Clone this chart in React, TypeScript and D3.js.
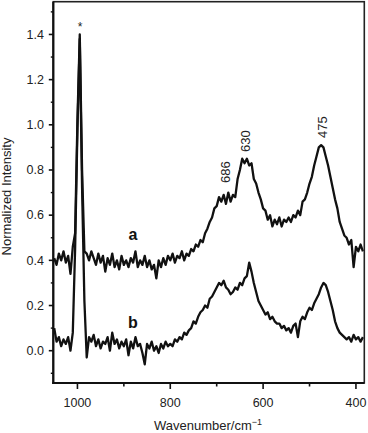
import React from 'react';
import * as d3 from 'd3';

// Raman spectra, sampled every 5 cm-1 from 1050 down to 385
const WN_START = 1050;
const WN_STEP = 5;

const traceA = [
  0.41, 0.38, 0.43, 0.40, 0.44, 0.39, 0.42, 0.34, 0.46, 0.52,
  1.02, 1.40, 0.80, 0.44, 0.43, 0.40, 0.44, 0.41, 0.38, 0.43,
  0.39, 0.42, 0.35, 0.41, 0.38, 0.43, 0.37, 0.40, 0.36, 0.42,
  0.38, 0.40, 0.37, 0.41, 0.39, 0.44, 0.37, 0.40, 0.38, 0.42,
  0.37, 0.40, 0.36, 0.38, 0.32, 0.40, 0.37, 0.41, 0.38, 0.42,
  0.40, 0.43, 0.39, 0.42, 0.41, 0.44, 0.40, 0.43, 0.42, 0.45,
  0.44, 0.47, 0.46, 0.49, 0.48, 0.52, 0.54, 0.57, 0.59, 0.63,
  0.64, 0.68, 0.66, 0.69, 0.65, 0.70, 0.66, 0.69, 0.68, 0.76,
  0.80, 0.85, 0.83, 0.85, 0.82, 0.83, 0.76, 0.74, 0.70, 0.67,
  0.63, 0.62, 0.58, 0.60, 0.55, 0.58, 0.56, 0.59, 0.55, 0.58,
  0.57, 0.59, 0.57, 0.60, 0.59, 0.62, 0.60, 0.66, 0.67, 0.70,
  0.74, 0.77, 0.82, 0.86, 0.90, 0.91, 0.90, 0.86, 0.82, 0.77,
  0.72, 0.67, 0.63, 0.57, 0.54, 0.51, 0.50, 0.47, 0.49, 0.37,
  0.46, 0.44, 0.47, 0.44,
];

const traceB = [
  0.10, 0.04, 0.06, 0.02, 0.05, 0.03, 0.06, 0.00, 0.08, 0.45,
  0.98, 1.38, 0.72, 0.22, -0.03, 0.06, 0.04, 0.07, 0.02, 0.05,
  0.01, 0.04, 0.03, 0.06, 0.00, 0.08, 0.03, 0.05, 0.01, 0.04,
  0.02, 0.05, -0.02, 0.04, 0.01, 0.06, 0.02, 0.03, -0.01, -0.06,
  0.03, 0.01, 0.04, 0.00, 0.02, -0.01, 0.03, 0.01, 0.04, 0.02,
  0.03, 0.02, 0.05, 0.04, 0.06, 0.05, 0.08, 0.07, 0.09, 0.10,
  0.13, 0.12, 0.15, 0.17, 0.18, 0.20, 0.19, 0.23, 0.24, 0.26,
  0.28, 0.30, 0.29, 0.31, 0.28, 0.27, 0.25, 0.26, 0.28, 0.27,
  0.30, 0.29, 0.32, 0.33, 0.39, 0.35, 0.30, 0.26, 0.22, 0.20,
  0.18, 0.16, 0.17, 0.14, 0.15, 0.13, 0.12, 0.12, 0.10, 0.11,
  0.09, 0.10, 0.08, 0.11, 0.12, 0.06, 0.13, 0.15, 0.14, 0.17,
  0.19, 0.18, 0.21, 0.23, 0.25, 0.28, 0.30, 0.29, 0.26, 0.22,
  0.18, 0.13, 0.10, 0.08, 0.07, 0.06, 0.05, 0.06, 0.04, 0.07,
  0.05, 0.06, 0.04, 0.06,
];

const xTicks = [1000, 800, 600, 400];
const xMinorTicks = [900, 700, 500];
const yTicks = [0, 0.2, 0.4, 0.6, 0.8, 1.0, 1.2, 1.4];
const yMinorTicks = [-0.1, 0.1, 0.3, 0.5, 0.7, 0.9, 1.1, 1.3, 1.5];
const peakLabels = ['686', '630', '475'];

const W = 368;
const H = 433;
const margin = { top: 1.7, right: 3.7, bottom: 50, left: 53.3 };
const FONT = '"Liberation Sans", Arial, Helvetica, sans-serif';

const App = () => {
  const x = d3.scaleLinear().domain([1052, 382]).range([margin.left, W - margin.right]);
  const y = d3.scaleLinear().domain([-0.143, 1.545]).range([H - margin.bottom, margin.top]);

  const wn = traceA.map((_, i) => WN_START - i * WN_STEP);
  const line = d3.line<number>()
    .x((_, i) => x(wn[i]))
    .y(d => y(d));

  const left = margin.left;
  const right = W - margin.right;
  const top = margin.top;
  const bottom = H - margin.bottom;

  // rotated peak labels: baseline x, bottom y
  const peakPos = [
    { bx: 230, by: 183 },
    { bx: 249.5, by: 152 },
    { bx: 327, by: 138 },
  ];

  return (
    <div style={{ position: 'fixed', left: 0, top: 0 }}>
      <svg width={W} height={H} style={{ display: 'block', background: '#fff' }} fontFamily={FONT}>
        <defs>
          <clipPath id="plot">
            <rect x={left} y={top} width={right - left} height={bottom - top} />
          </clipPath>
        </defs>

        <g clipPath="url(#plot)" fill="none" stroke="#111" strokeWidth={2.3} strokeLinejoin="round">
          <path d={line(traceA) || ''} />
          <path d={line(traceB) || ''} />
        </g>

        {/* frame */}
        <rect x={left} y={top} width={right - left} height={bottom - top} fill="none" stroke="#222" strokeWidth={1.6} />
        <line x1={left} x2={left} y1={top} y2={bottom + 1} stroke="#111" strokeWidth={2.2} />
        <line x1={left - 1} x2={right} y1={bottom} y2={bottom} stroke="#111" strokeWidth={2.2} />

        {/* x ticks */}
        {xTicks.map(t => (
          <g key={t}>
            <line x1={x(t)} x2={x(t)} y1={bottom} y2={bottom + 6} stroke="#111" strokeWidth={1.6} />
            <text x={x(t)} y={406.5} textAnchor="middle" fontSize={12.5} fill="#222">{t}</text>
          </g>
        ))}
        {xMinorTicks.map(t => (
          <line key={t} x1={x(t)} x2={x(t)} y1={bottom} y2={bottom + 3.5} stroke="#111" strokeWidth={1.6} />
        ))}

        {/* y ticks */}
        {yTicks.map(t => (
          <g key={t}>
            <line x1={left - 4.5} x2={left} y1={y(t)} y2={y(t)} stroke="#111" strokeWidth={1.6} />
            <text x={44} y={y(t) + 4.3} textAnchor="end" fontSize={12.5} fill="#222">{t.toFixed(1)}</text>
          </g>
        ))}
        {yMinorTicks.map(t => (
          <line key={t} x1={left - 2.5} x2={left} y1={y(t)} y2={y(t)} stroke="#111" strokeWidth={1.4} />
        ))}

        {/* axis titles */}
        <text x={208} y={430} textAnchor="middle" fontSize={13} fill="#222">
          Wavenumber/cm<tspan dy={-5} fontSize={9}>−1</tspan>
        </text>
        <text transform="translate(11,196.5) rotate(-90)" textAnchor="middle" fontSize={13} fill="#222">
          Normalized Intensity
        </text>

        {/* annotations */}
        <text x={80} y={31} textAnchor="middle" fontSize={12} fill="#222">*</text>
        {peakLabels.map((p, i) => (
          <text key={p} transform={`translate(${peakPos[i].bx},${peakPos[i].by}) rotate(-90)`} fontSize={13} fill="#222">{p}</text>
        ))}
        <text x={133} y={240} textAnchor="middle" fontSize={16} fontWeight="bold" fill="#111">a</text>
        <text x={133} y={328} textAnchor="middle" fontSize={16} fontWeight="bold" fill="#111">b</text>
      </svg>
    </div>
  );
};

export default App;
